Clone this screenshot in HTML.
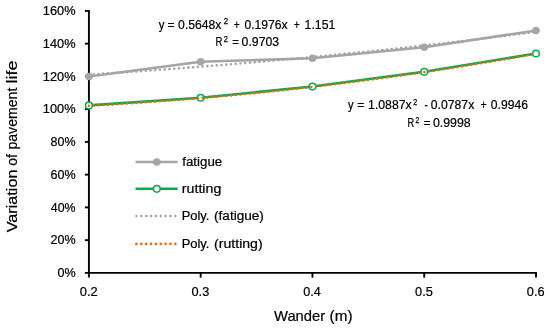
<!DOCTYPE html>
<html><head><meta charset="utf-8"><title>Variation of pavement life vs wander</title>
<style>
html,body{margin:0;padding:0;background:#fff;}
body{width:550px;height:329px;overflow:hidden;}
svg{display:block;}
text{font-family:"Liberation Sans",sans-serif;fill:#000;}
.t{font-size:12px;stroke:#000;stroke-width:0.2px;}
.a{font-size:14.3px;stroke:#000;stroke-width:0.2px;}
.s{font-size:8.2px;stroke:#000;stroke-width:0.25px;}
</style></head><body>
<svg width="550" height="329" viewBox="0 0 550 329">
<rect width="550" height="329" fill="#fff"/>
<g stroke="#000" stroke-width="1.9" fill="none" stroke-linecap="butt">
<line x1="88.9" y1="10" x2="88.9" y2="277.6"/>
<line x1="84.9" y1="272.9" x2="536.95" y2="272.9"/>
<line x1="84.9" y1="10.90" x2="88.9" y2="10.90"/>
<line x1="84.9" y1="43.65" x2="88.9" y2="43.65"/>
<line x1="84.9" y1="76.40" x2="88.9" y2="76.40"/>
<line x1="84.9" y1="109.15" x2="88.9" y2="109.15"/>
<line x1="84.9" y1="141.90" x2="88.9" y2="141.90"/>
<line x1="84.9" y1="174.65" x2="88.9" y2="174.65"/>
<line x1="84.9" y1="207.40" x2="88.9" y2="207.40"/>
<line x1="84.9" y1="240.15" x2="88.9" y2="240.15"/>
<line x1="200.68" y1="272.9" x2="200.68" y2="277.6"/>
<line x1="312.45" y1="272.9" x2="312.45" y2="277.6"/>
<line x1="424.23" y1="272.9" x2="424.23" y2="277.6"/>
<line x1="536.00" y1="272.9" x2="536.00" y2="277.6"/>
</g>
<polyline points="88.90,76.50 200.67,61.80 312.45,58.20 424.23,47.30 536.00,30.50" fill="none" stroke="#A5A5A5" stroke-width="2.6" stroke-linejoin="round"/>
<circle cx="88.90" cy="76.50" r="3.8" fill="#A5A5A5"/>
<circle cx="200.67" cy="61.80" r="3.8" fill="#A5A5A5"/>
<circle cx="312.45" cy="58.20" r="3.8" fill="#A5A5A5"/>
<circle cx="424.23" cy="47.30" r="3.8" fill="#A5A5A5"/>
<circle cx="536.00" cy="30.50" r="3.8" fill="#A5A5A5"/>
<polyline points="88.90,105.38 200.67,97.76 312.45,86.57 424.23,71.81 536.00,53.49" fill="none" stroke="#00AE50" stroke-width="2.6" stroke-linejoin="round"/>
<circle cx="88.90" cy="105.38" r="3.35" fill="#fff" stroke="#00AE50" stroke-width="1.5"/>
<circle cx="200.67" cy="97.76" r="3.35" fill="#fff" stroke="#00AE50" stroke-width="1.5"/>
<circle cx="312.45" cy="86.57" r="3.35" fill="#fff" stroke="#00AE50" stroke-width="1.5"/>
<circle cx="424.23" cy="71.81" r="3.35" fill="#fff" stroke="#00AE50" stroke-width="1.5"/>
<circle cx="536.00" cy="53.49" r="3.35" fill="#fff" stroke="#00AE50" stroke-width="1.5"/>
<polyline points="88.90,74.55 94.49,74.20 100.08,73.85 105.67,73.49 111.25,73.13 116.84,72.76 122.43,72.39 128.02,72.01 133.61,71.63 139.20,71.24 144.79,70.85 150.38,70.46 155.97,70.06 161.55,69.65 167.14,69.25 172.73,68.83 178.32,68.41 183.91,67.99 189.50,67.56 195.09,67.13 200.67,66.69 206.26,66.25 211.85,65.81 217.44,65.35 223.03,64.90 228.62,64.44 234.21,63.97 239.80,63.50 245.38,63.03 250.97,62.55 256.56,62.07 262.15,61.58 267.74,61.09 273.33,60.59 278.92,60.09 284.51,59.58 290.10,59.07 295.68,58.56 301.27,58.04 306.86,57.51 312.45,56.98 318.04,56.45 323.63,55.91 329.22,55.37 334.80,54.82 340.39,54.27 345.98,53.71 351.57,53.15 357.16,52.58 362.75,52.01 368.34,51.43 373.93,50.85 379.51,50.27 385.10,49.68 390.69,49.09 396.28,48.49 401.87,47.88 407.46,47.28 413.05,46.66 418.64,46.05 424.22,45.42 429.81,44.80 435.40,44.17 440.99,43.53 446.58,42.89 452.17,42.24 457.76,41.60 463.35,40.94 468.94,40.28 474.52,39.62 480.11,38.95 485.70,38.28 491.29,37.60 496.88,36.92 502.47,36.23 508.06,35.54 513.64,34.84 519.23,34.14 524.82,33.44 530.41,32.73 536.00,32.01" fill="none" stroke="#A5A5A5" stroke-width="2.6" stroke-linecap="round" stroke-dasharray="0.01 4.74"/>
<polyline points="88.90,105.68 94.49,105.38 100.08,105.08 105.67,104.76 111.25,104.44 116.84,104.11 122.43,103.77 128.02,103.42 133.61,103.06 139.20,102.69 144.79,102.31 150.38,101.93 155.97,101.53 161.55,101.13 167.14,100.72 172.73,100.30 178.32,99.87 183.91,99.43 189.50,98.98 195.09,98.52 200.67,98.06 206.26,97.58 211.85,97.10 217.44,96.60 223.03,96.10 228.62,95.59 234.21,95.07 239.80,94.54 245.38,94.01 250.97,93.46 256.56,92.91 262.15,92.34 267.74,91.77 273.33,91.19 278.92,90.60 284.51,90.00 290.10,89.39 295.68,88.77 301.27,88.14 306.86,87.51 312.45,86.87 318.04,86.21 323.63,85.55 329.22,84.88 334.80,84.20 340.39,83.51 345.98,82.81 351.57,82.11 357.16,81.39 362.75,80.67 368.34,79.93 373.93,79.19 379.51,78.44 385.10,77.68 390.69,76.91 396.28,76.13 401.87,75.35 407.46,74.55 413.05,73.75 418.64,72.93 424.22,72.11 429.81,71.28 435.40,70.44 440.99,69.59 446.58,68.73 452.17,67.86 457.76,66.99 463.35,66.10 468.94,65.21 474.52,64.31 480.11,63.39 485.70,62.47 491.29,61.54 496.88,60.61 502.47,59.66 508.06,58.70 513.64,57.74 519.23,56.76 524.82,55.78 530.41,54.79 536.00,53.79" fill="none" stroke="#F0640A" stroke-width="2.6" stroke-linecap="round" stroke-dasharray="0.01 4.74"/>
<line x1="135.5" y1="162" x2="177.6" y2="162" stroke="#A5A5A5" stroke-width="2.6"/><circle cx="156.8" cy="162" r="3.8" fill="#A5A5A5"/>
<line x1="135.5" y1="188.8" x2="177.6" y2="188.8" stroke="#00AE50" stroke-width="2.6"/><circle cx="156.8" cy="188.8" r="3.35" fill="#fff" stroke="#00AE50" stroke-width="1.5"/>
<line x1="136.4" y1="216" x2="176.5" y2="216" stroke="#A5A5A5" stroke-width="2.6" stroke-linecap="round" stroke-dasharray="0.01 4.86"/>
<line x1="136.4" y1="243.9" x2="176.5" y2="243.9" stroke="#F0640A" stroke-width="2.6" stroke-linecap="round" stroke-dasharray="0.01 4.86"/>
<text class="t" x="42.87" y="15.0" textLength="32.68" lengthAdjust="spacingAndGlyphs">160%</text>
<text class="t" x="42.87" y="47.75" textLength="32.68" lengthAdjust="spacingAndGlyphs">140%</text>
<text class="t" x="42.87" y="80.5" textLength="32.68" lengthAdjust="spacingAndGlyphs">120%</text>
<text class="t" x="42.87" y="113.25" textLength="32.68" lengthAdjust="spacingAndGlyphs">100%</text>
<text class="t" x="50.61" y="146.0" textLength="25.01" lengthAdjust="spacingAndGlyphs">80%</text>
<text class="t" x="50.48" y="178.75" textLength="25.15" lengthAdjust="spacingAndGlyphs">60%</text>
<text class="t" x="50.87" y="211.5" textLength="24.75" lengthAdjust="spacingAndGlyphs">40%</text>
<text class="t" x="50.48" y="244.25" textLength="25.15" lengthAdjust="spacingAndGlyphs">20%</text>
<text class="t" x="57.41" y="277.0" textLength="18.15" lengthAdjust="spacingAndGlyphs">0%</text>
<text class="t" x="79.75" y="296.3" textLength="17.91" lengthAdjust="spacingAndGlyphs">0.2</text>
<text class="t" x="191.53" y="296.3" textLength="17.76" lengthAdjust="spacingAndGlyphs">0.3</text>
<text class="t" x="303.30" y="296.3" textLength="17.63" lengthAdjust="spacingAndGlyphs">0.4</text>
<text class="t" x="415.08" y="296.3" textLength="17.76" lengthAdjust="spacingAndGlyphs">0.5</text>
<text class="t" x="526.85" y="296.3" textLength="17.76" lengthAdjust="spacingAndGlyphs">0.6</text>
<text class="a" x="274.00" y="321.0" textLength="51.16" lengthAdjust="spacingAndGlyphs">Wander</text>
<text class="a" x="329.60" y="321.0" textLength="22.87" lengthAdjust="spacingAndGlyphs">(m)</text>
<text class="t" x="182.26" y="165.5" textLength="39.99" lengthAdjust="spacingAndGlyphs">fatigue</text>
<text class="t" x="181.81" y="192.8" textLength="39.56" lengthAdjust="spacingAndGlyphs">rutting</text>
<text class="t" x="181.66" y="220.2" textLength="27.77" lengthAdjust="spacingAndGlyphs">Poly.</text>
<text class="t" x="214.09" y="220.2" textLength="49.75" lengthAdjust="spacingAndGlyphs">(fatigue)</text>
<text class="t" x="181.66" y="247.6" textLength="27.77" lengthAdjust="spacingAndGlyphs">Poly.</text>
<text class="t" x="214.06" y="247.6" textLength="48.63" lengthAdjust="spacingAndGlyphs">(rutting)</text>
<text class="t" x="158.72" y="28.5" textLength="5.66" lengthAdjust="spacingAndGlyphs">y</text>
<text class="t" x="167.60" y="28.5" textLength="7.02" lengthAdjust="spacingAndGlyphs">=</text>
<text class="t" x="178.12" y="28.5" textLength="43.33" lengthAdjust="spacingAndGlyphs">0.5648x</text>
<text class="s" x="223.66" y="24.2" textLength="4.45" lengthAdjust="spacingAndGlyphs">2</text>
<text class="t" x="233.67" y="28.5" textLength="5.96" lengthAdjust="spacingAndGlyphs">+</text>
<text class="t" x="244.52" y="28.5" textLength="43.13" lengthAdjust="spacingAndGlyphs">0.1976x</text>
<text class="t" x="293.68" y="28.5" textLength="5.96" lengthAdjust="spacingAndGlyphs">+</text>
<text class="t" x="304.60" y="28.5" textLength="30.74" lengthAdjust="spacingAndGlyphs">1.151</text>
<text class="t" x="215.60" y="46.4" textLength="6.94" lengthAdjust="spacingAndGlyphs">R</text>
<text class="s" x="223.87" y="42.1" textLength="4.22" lengthAdjust="spacingAndGlyphs">2</text>
<text class="t" x="232.33" y="46.4" textLength="6.66" lengthAdjust="spacingAndGlyphs">=</text>
<text class="t" x="241.62" y="46.4" textLength="37.44" lengthAdjust="spacingAndGlyphs">0.9703</text>
<text class="t" x="348.02" y="108.9" textLength="5.57" lengthAdjust="spacingAndGlyphs">y</text>
<text class="t" x="357.30" y="108.9" textLength="7.02" lengthAdjust="spacingAndGlyphs">=</text>
<text class="t" x="368.11" y="108.9" textLength="43.54" lengthAdjust="spacingAndGlyphs">1.0887x</text>
<text class="s" x="413.18" y="104.60000000000001" textLength="3.99" lengthAdjust="spacingAndGlyphs">2</text>
<text class="t" x="424.49" y="108.9" textLength="3.33" lengthAdjust="spacingAndGlyphs">-</text>
<text class="t" x="430.82" y="108.9" textLength="43.43" lengthAdjust="spacingAndGlyphs">0.0787x</text>
<text class="t" x="480.56" y="108.9" textLength="6.20" lengthAdjust="spacingAndGlyphs">+</text>
<text class="t" x="490.82" y="108.9" textLength="37.14" lengthAdjust="spacingAndGlyphs">0.9946</text>
<text class="t" x="407.62" y="127.0" textLength="6.70" lengthAdjust="spacingAndGlyphs">R</text>
<text class="s" x="415.49" y="122.7" textLength="3.88" lengthAdjust="spacingAndGlyphs">2</text>
<text class="t" x="423.72" y="127.0" textLength="6.66" lengthAdjust="spacingAndGlyphs">=</text>
<text class="t" x="432.91" y="127.0" textLength="37.75" lengthAdjust="spacingAndGlyphs">0.9998</text>
<g transform="translate(17.1,232.3) rotate(-90)">
<text class="a" x="0.00" y="0" textLength="62.69" lengthAdjust="spacingAndGlyphs">Variation</text>
<text class="a" x="66.61" y="0" textLength="11.63" lengthAdjust="spacingAndGlyphs">of</text>
<text class="a" x="82.74" y="0" textLength="61.91" lengthAdjust="spacingAndGlyphs">pavement</text>
<text class="a" x="148.81" y="0" textLength="22.86" lengthAdjust="spacingAndGlyphs">life</text>
</g>
</svg></body></html>
